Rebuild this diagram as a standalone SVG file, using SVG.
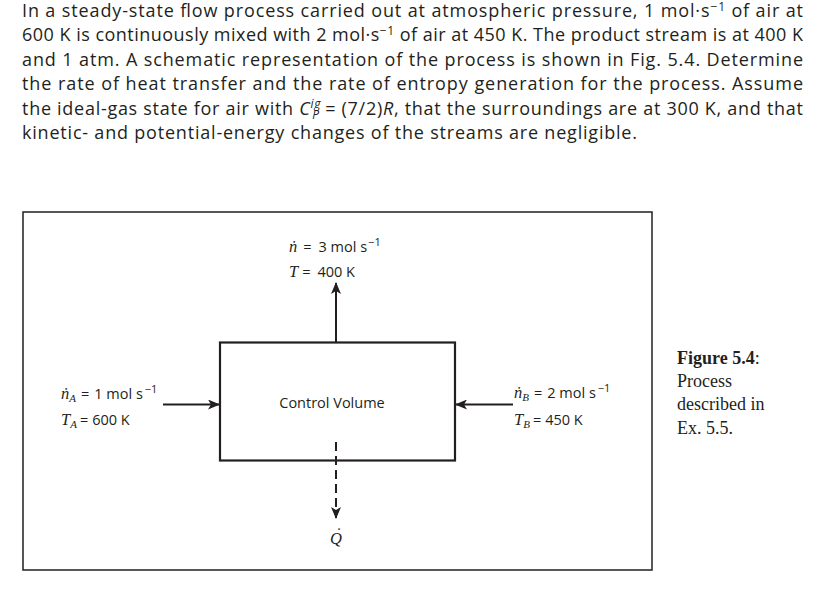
<svg xmlns="http://www.w3.org/2000/svg" width="830" height="609" viewBox="0 0 830 609">
<defs>
<style>
.body{font-family:"Open Sans",Lato,sans-serif;font-size:18px;fill:#231f20}
.lab{font-family:"Open Sans",Lato,sans-serif;font-size:14.5px;fill:#231f20}
.it{font-family:"Liberation Serif",serif;font-style:italic;font-size:16.5px}
.sub{font-family:"Liberation Serif",serif;font-style:italic;font-size:11px}
.sup{font-size:11px}
.cap{font-family:"Liberation Serif",serif;font-size:18px;fill:#231f20}
.ln{stroke:#231f20;stroke-width:2;fill:none}
</style>
<marker id="ah" viewBox="0 0 12 10" refX="11" refY="5" markerWidth="12" markerHeight="10" markerUnits="userSpaceOnUse" orient="auto">
<path d="M0,0 L12,5 L0,10 L3,5 Z" fill="#231f20"/>
</marker>
</defs>
<rect width="830" height="609" fill="#ffffff"/>
<g id="problem-text" class="body">
<text x="22" y="16.5" textLength="781" lengthAdjust="spacing">In a steady-state flow process carried out at atmospheric pressure, 1 mol·s<tspan dy="-5.5" font-size="12">−1</tspan><tspan dy="5.5"> of air at</tspan></text>
<text x="22" y="41" textLength="781" lengthAdjust="spacing">600 K is continuously mixed with 2 mol·s<tspan dy="-6" font-size="12">−1</tspan><tspan dy="6"> of air at 450 K. The product stream is at 400 K</tspan></text>
<text x="22" y="65.5" textLength="781" lengthAdjust="spacing">and 1 atm. A schematic representation of the process is shown in Fig. 5.4. Determine</text>
<text x="22" y="90" textLength="781" lengthAdjust="spacing">the rate of heat transfer and the rate of entropy generation for the process. Assume</text>
<text x="22" y="114.5" textLength="781" lengthAdjust="spacing">the ideal-gas state for air with <tspan font-style="italic">C</tspan><tspan dy="-7" font-size="12" font-style="italic">ig</tspan><tspan dx="-9" dy="11" font-size="12" font-style="italic">P</tspan><tspan dy="-4"> = (7/2)</tspan><tspan font-style="italic">R</tspan>, that the surroundings are at 300 K, and that</text>
<text x="22" y="139" textLength="615" lengthAdjust="spacing">kinetic- and potential-energy changes of the streams are negligible.</text>
</g>
<rect id="frame" x="23" y="212" width="629" height="358" fill="none" stroke="#231f20" stroke-width="1.5"/>
<g id="connectors">
<line class="ln" x1="336" y1="342" x2="336" y2="283" marker-end="url(#ah)"/>
<line class="ln" x1="163" y1="404.5" x2="219" y2="404.5" marker-end="url(#ah)"/>
<line class="ln" x1="513" y1="404.5" x2="456" y2="404.5" marker-end="url(#ah)"/>
<line class="ln" x1="336" y1="442" x2="336" y2="518" stroke-dasharray="9,5" marker-end="url(#ah)"/>
</g>
<g id="control-volume">
<rect x="220" y="342.5" width="235" height="118" fill="none" stroke="#231f20" stroke-width="2.2"/>
<text class="lab" x="332" y="407.5" text-anchor="middle" font-size="15.5">Control Volume</text>
</g>
<g id="outlet-label" class="lab">
<text x="289" y="252"><tspan class="it">ṅ</tspan><tspan dx="6">=</tspan><tspan dx="7">3 mol s</tspan><tspan class="sup" dx="1" dy="-6">−1</tspan></text>
<text x="289" y="277"><tspan class="it">T</tspan><tspan dx="4">=</tspan><tspan dx="7">400 K</tspan></text>
</g>
<g id="inlet-a-label" class="lab">
<text x="61" y="399"><tspan class="it">ṅ</tspan><tspan class="sub" dy="3">A</tspan><tspan dx="5" dy="-3">=</tspan><tspan dx="5">1 mol s</tspan><tspan class="sup" dx="2" dy="-6">−1</tspan></text>
<text x="61" y="425"><tspan class="it">T</tspan><tspan class="sub" dy="3">A</tspan><tspan dx="3" dy="-3">=</tspan><tspan dx="4">600 K</tspan></text>
</g>
<g id="inlet-b-label" class="lab">
<text x="514" y="398"><tspan class="it">ṅ</tspan><tspan class="sub" dy="3">B</tspan><tspan dx="5" dy="-3">=</tspan><tspan dx="5">2 mol s</tspan><tspan class="sup" dx="2" dy="-6">−1</tspan></text>
<text x="514" y="425"><tspan class="it">T</tspan><tspan class="sub" dy="3">B</tspan><tspan dx="3" dy="-3">=</tspan><tspan dx="4">450 K</tspan></text>
</g>
<g id="heat-label" fill="#231f20">
<text class="it" x="338" y="539" text-anchor="middle">˙</text>
<text class="it" x="336" y="544" text-anchor="middle">Q</text>
</g>
<g id="caption" class="cap">
<text x="677" y="364"><tspan font-weight="bold">Figure 5.4</tspan>:</text>
<text x="677" y="387">Process</text>
<text x="677" y="410">described in</text>
<text x="677" y="434">Ex. 5.5.</text>
</g>
</svg>
